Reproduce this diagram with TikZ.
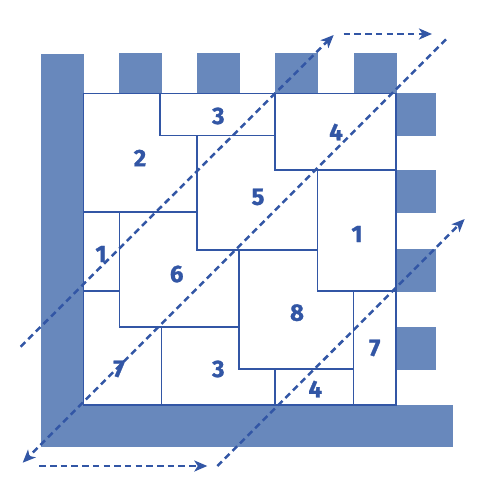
\documentclass[tikz,border=0pt]{standalone}
\usepackage{fontspec}
\setmainfont{Fira Sans}[BoldFeatures={FakeBold=1.2}]
\usetikzlibrary{arrows.meta}
\definecolor{barblue}{RGB}{104,136,188}
\definecolor{inkblue}{RGB}{50,86,165}
\begin{document}
\begin{tikzpicture}[x=1bp,y=-1bp,
  bar/.style={fill=barblue,draw=none},
  tile/.style={fill=white,draw=inkblue,line width=1.3bp},
  num/.style={text=inkblue,font=\fontsize{24}{24}\selectfont\bfseries,inner sep=0pt},
  route/.style={draw=inkblue,line width=2.5bp,dash pattern=on 6.5bp off 4.2bp},
  tipend/.style={-{Stealth[length=13bp,width=11bp,inset=3.5bp]}}]
\useasboundingbox (0,0) rectangle (504,492);
% bars
\fill[bar] (41,54) rectangle (83.7,447);
\fill[bar] (41,405) rectangle (453,447);
\fill[bar] (119,53) rectangle (162,93.5);
\fill[bar] (197,53) rectangle (240,93.5);
\fill[bar] (275,53) rectangle (317.7,93.5);
\fill[bar] (353.7,53) rectangle (397,93.5);
\fill[bar] (396,93.5) rectangle (436,135.7);
\fill[bar] (396,170) rectangle (436,212.7);
\fill[bar] (396,249.3) rectangle (436,291.7);
\fill[bar] (396,327) rectangle (436,369.7);
% tiles
\draw[tile] (83.5,291) rectangle (161.7,405);
\draw[tile] (119.3,212) rectangle (239,327);
\draw[tile] (161.7,327) rectangle (275,405);
\draw[tile] (239,250) rectangle (353.7,369);
\draw[tile] (197,135.7) rectangle (317.7,250);
\draw[tile] (317.7,170) rectangle (396,291);
\draw[tile] (83.5,93.5) rectangle (197,212);
\draw[tile] (160,93.5) rectangle (275,135.7);
\draw[tile] (275,93.5) rectangle (396,170);
\draw[tile] (83.5,212) rectangle (119.3,291);
\draw[tile] (353.7,291) rectangle (396,405);
\draw[tile] (275,369) rectangle (353.7,405);
% route coordinates
\coordinate (a1) at (20.7,346.7);
\coordinate (a2) at (333.7,35);
\coordinate (b1) at (446,39.3);
\coordinate (b2) at (22.7,462.7);
\coordinate (c1) at (217.3,466);
\coordinate (c2) at (464.7,219);
\coordinate (t1) at (343.7,34);
\coordinate (t2) at (432,34);
\coordinate (h1) at (39.3,466);
\coordinate (h2) at (207.3,466);
\draw[route,tipend] (a1) -- (a2);
\draw[route,tipend] (b1) -- (b2);
\draw[route,tipend] (c1) -- (c2);
\draw[route,tipend] (t1) -- (t2);
\draw[route,tipend] (h1) -- (h2);
% labels
\node[num] (n3t) at (218.3,116) {3};
\node[num] (n2) at (140,158) {2};
\node[num] (n4t) at (336,132) {4};
\node[num] (n5) at (258,197) {5};
\node[num] (n1r) at (357,234) {1};
\node[num] (n1l) at (101,254) {1};
\node[num] (n6) at (176.7,274) {6};
\node[num] (n8) at (297,312.7) {8};
\node[num] (n7r) at (374.7,348) {7};
\node[num] (n7l) at (119,369) {7};
\node[num] (n3b) at (218.3,369) {3};
\node[num] (n4b) at (315.3,389) {4};
\end{tikzpicture}
\end{document}
